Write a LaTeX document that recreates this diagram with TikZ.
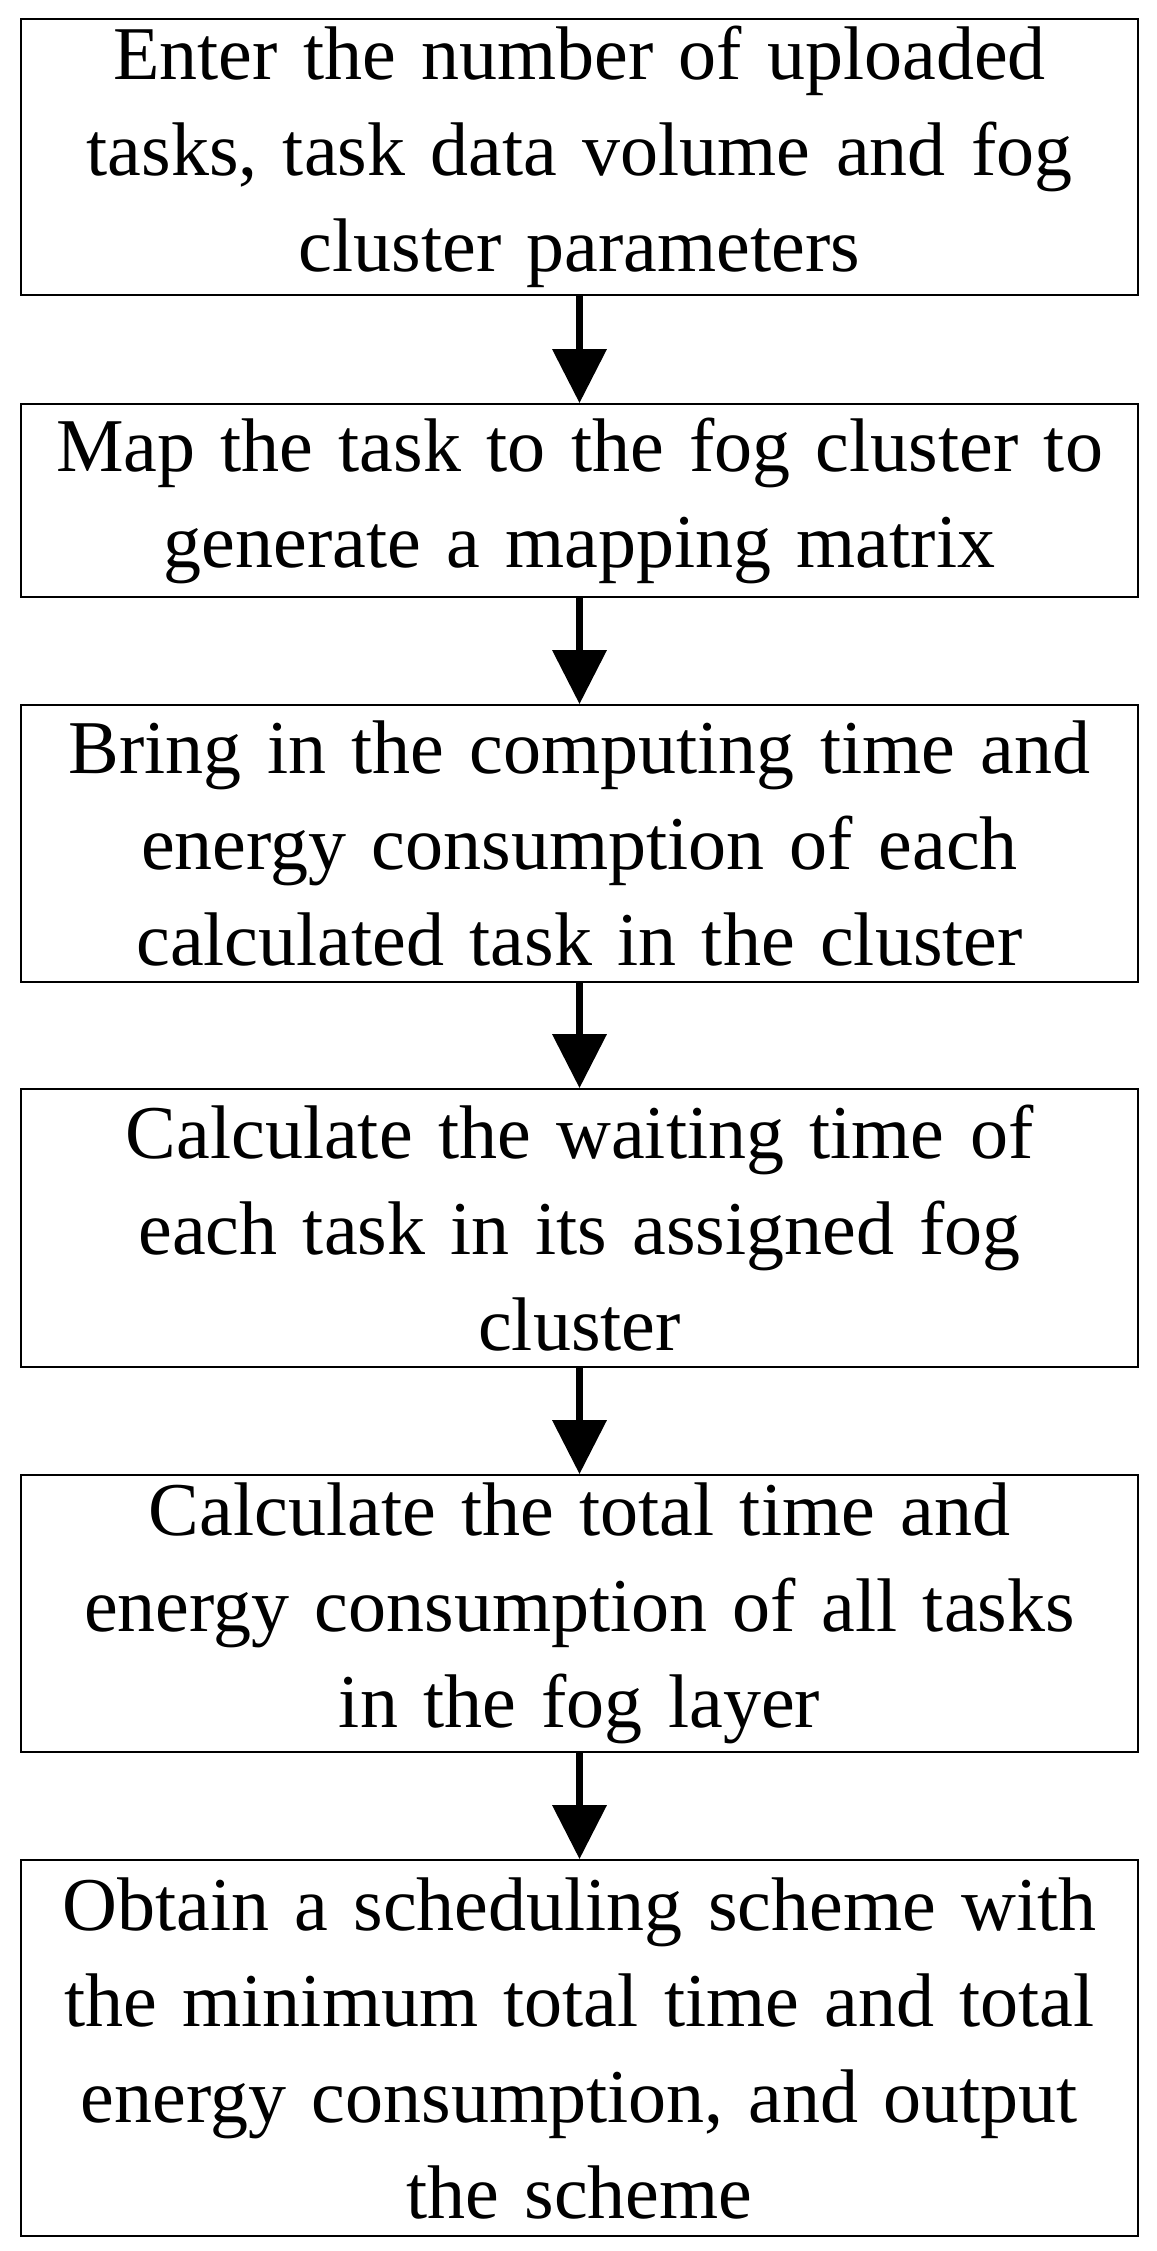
\documentclass[tikz,border=0pt]{standalone}
\usepackage{fontspec}
\setmainfont{Liberation Serif}
\usetikzlibrary{arrows.meta}

\tikzset{
  caixa/.style={draw, line width=0.9pt, text width=540pt, inner xsep=9.25pt,
    inner ysep=0pt, align=center, font=\fontsize{38}{48}\selectfont},
  seta/.style={line width=3.5pt, -{Triangle[length=27pt,width=26.5pt]}}
}

\begin{document}
\begin{tikzpicture}[x=0.5pt, y=-0.5pt]
  \useasboundingbox (0,0) rectangle (1157,2251);
  % Caixas
  \node[caixa, minimum height=138pt] (passo1) at (579.5,157)
    {Enter the number of uploaded\\ tasks, task data volume and fog\\ cluster parameters};
  \node[caixa, minimum height=96.5pt] (passo2) at (579.5,500.5)
    {Map the task to the fog cluster to\\ generate a mapping matrix};
  \node[caixa, minimum height=138.5pt] (passo3) at (579.5,843.5)
    {Bring in the computing time and\\ energy consumption of each\\ calculated task in the cluster};
  \node[caixa, minimum height=139pt] (passo4) at (579.5,1228)
    {Calculate the waiting time of\\ each task in its assigned fog\\ cluster};
  \node[caixa, minimum height=138.5pt] (passo5) at (579.5,1613.5)
    {Calculate the total time and\\ energy consumption of all tasks\\ in the fog layer};
  \node[caixa, minimum height=188pt] (passo6) at (579.5,2048)
    {Obtain a scheduling scheme with\\ the minimum total time and total\\ energy consumption, and output\\ the scheme};
  % Setas
  \foreach \i/\j in {1/2,2/3,3/4,4/5,5/6}{
    \draw[seta] (passo\i.south) -- (passo\j.north);
  }
\end{tikzpicture}
\end{document}
